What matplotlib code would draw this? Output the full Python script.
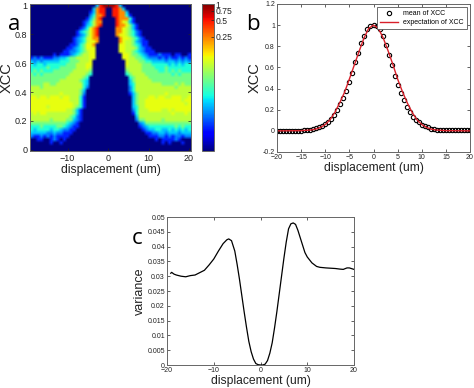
import matplotlib
matplotlib.use("Agg")
import numpy as np
import matplotlib.pyplot as plt
from matplotlib.colors import LogNorm

plt.rcParams['font.family'] = ['Liberation Sans', 'DejaVu Sans']

# heatmap levels, top row first: left part | right part, gap between is empty
HIST_ROWS = [
    "0"*20 + "39aa|aa93" + "0"*21,
    "0"*19 + "3899|9983" + "0"*20,
    "0"*18 + "13899|99883" + "0"*19,
    "0"*18 + "24889|998841" + "0"*18,
    "0"*17 + "13589|988841" + "0"*17,
    "0"*16 + "124688|987631" + "0"*17,
    "0"*16 + "134689|9887531" + "0"*16,
    "0"*15 + "124789|8876531" + "0"*16,
    "0"*14 + "1345789|88765421" + "0"*15,
    "0"*14 + "1235789|87765421" + "0"*15,
    "0"*13 + "12346788|87765421" + "0"*14,
    "0"*13 + "12346778|876653211" + "0"*13,
    "0"*12 + "11245778|776654311" + "0"*13,
    "0"*11 + "112345777|7766653211" + "0"*12,
    "0"*10 + "1122345677|77665432111" + "0"*11,
    "00000001011123456677|776554321112111011001",
    "12121112233455666677|776655432221212112121",
    "3232333334445556667|76665544333323323232",
    "4344344444455566677|76666555444443434344",
    "4444454445555566676|66666555544454444444",
    "4545444555555666665|56666555554454545444",
    "5454555555556666654|45666655555555454555",
    "555555555556666654|4566665555555555555",
    "555555555666666543|3566666555555555555",
    "555566556666666643|3466666666555565655",
    "666566666666666642|2466666666666656666",
    "66666666666666653|2466666666666666666",
    "66666666676666652|1356666666676666666",
    "77677677767766641|0356667767766777667",
    "77777777777766641|0356677777777777677",
    "77777777777776641|356677777777777767",
    "77777677777776541|346677777777777777",
    "7777777777766531|246667777667677777",
    "6767766666666531|146666666666766676",
    "6666666666665421|36666666666666666",
    "6666665666655321|25566666566666666",
    "555555555554321|2355555555555555",
    "444544445543211|1234444444454544",
    "43444434432211|123344334343434",
    "3333322322111|11223323332333",
    "211212121111|1112212122122",
    "001100121010|0010111121000",
    "000000100100|0000101000100",
    "|",
    "|",
]
LEVEL_FRAC = {"0": 0.0, "1": 0.16, "2": 0.25, "3": 0.32, "4": 0.39, "5": 0.49,
              "6": 0.58, "7": 0.63, "8": 0.76, "9": 0.88, "a": 0.97}

# b: mean and expectation of XCC
x_mean = np.arange(-20, 20.01, 0.625)
mean_xcc = [0.0, 0.0, 0.0, 0.0, 0.0, 0.0, 0.0, 0.001, 0.002, 0.004, 0.007, 0.011, 0.016, 0.023,
            0.032, 0.045, 0.062, 0.085, 0.115, 0.15, 0.195, 0.25, 0.31, 0.38, 0.46, 0.55, 0.65,
            0.74, 0.83, 0.9, 0.96, 0.99, 1.0, 0.99, 0.96, 0.9, 0.81, 0.72, 0.62, 0.52, 0.43, 0.36,
            0.29, 0.23, 0.18, 0.135, 0.105, 0.08, 0.06, 0.045, 0.032, 0.022, 0.016, 0.012, 0.009,
            0.007, 0.006, 0.006, 0.007, 0.008, 0.008, 0.008, 0.009, 0.009, 0.01]
x_expect = [-20, -15, -13, -12, -11, -10, -9, -8, -7, -6, -5, -4, -3, -2, -1, 0,
            1, 2, 3, 4, 5, 6, 7, 8, 9, 10, 11, 12, 13, 15, 20]
expect_xcc = [0.0, 0.002, 0.008, 0.016, 0.032, 0.06, 0.105, 0.175, 0.265, 0.365, 0.49, 0.62, 0.75,
              0.875, 0.97, 1.0, 0.97, 0.88, 0.76, 0.63, 0.49, 0.37, 0.265, 0.175, 0.105, 0.06,
              0.032, 0.016, 0.008, 0.002, 0.0]

# c: variance
x_var = [-19.2, -19, -18.5, -18, -17, -16, -15, -14, -13, -12, -11, -10, -9, -8, -7.2, -6.8, -6.2,
         -5.5, -5, -4.5, -4, -3.5, -3, -2.5, -2, -1.5, -1, -0.5, 0, 0.5, 1, 1.5, 2, 2.5, 3, 3.5, 4,
         4.5, 5, 5.5, 6, 6.5, 7, 7.5, 8, 8.5, 9, 9.5, 10, 11, 12, 12.7, 14, 15, 16, 17, 17.7, 18.5,
         19, 20]
variance = [0.031, 0.0313, 0.0307, 0.0304, 0.03, 0.0298, 0.0302, 0.0304, 0.0312, 0.032, 0.0338,
            0.0358, 0.0385, 0.041, 0.0423, 0.0426, 0.042, 0.0385, 0.034, 0.029, 0.0235, 0.018,
            0.0128, 0.008, 0.0045, 0.002, 0.0005, 0.0001, 0.0, 0.0, 0.0003, 0.0015, 0.004, 0.0075,
            0.0125, 0.018, 0.024, 0.03, 0.036, 0.0415, 0.046, 0.0477, 0.048, 0.0475, 0.0455, 0.043,
            0.0405, 0.038, 0.0365, 0.0345, 0.0333, 0.033, 0.0328, 0.0327, 0.0326, 0.0324, 0.0323,
            0.0328, 0.0328, 0.0323]

W, H = 474, 388
VMIN = 1 / 512


def pxAxes(fig, left, top, right, bottom):
    return fig.add_axes([left / W, 1 - bottom / H, (right - left) / W, (bottom - top) / H])


def styleAxes(ax, fontsize, pad=2):
    ax.tick_params(direction="in", length=2, width=0.5, top=True, right=True,
                   labelsize=fontsize, pad=pad, colors="#222222")
    for s in ax.spines.values():
        s.set_color("#666666")
        s.set_linewidth(0.7)


def rowLevels(row):
    left, right = row.split("|")
    full = left + "0" * (49 - len(left) - len(right)) + right
    return [VMIN ** (1 - LEVEL_FRAC[c]) for c in full]


fig = plt.figure(figsize=(W / 100, H / 100), dpi=100)

# a
axA = pxAxes(fig, 30, 4, 191, 151)
grid = np.array([rowLevels(r) for r in HIST_ROWS])
im = axA.imshow(grid, cmap="jet", norm=LogNorm(vmin=VMIN, vmax=1), aspect="auto",
                extent=(-19.3, 20.5, -0.01, 1.012), interpolation="bilinear",
                interpolation_stage="rgba")
axA.set_xticks([-10, 0, 10, 20])
axA.set_yticks([0, 0.2, 0.4, 0.6, 0.8, 1])
axA.set_yticklabels(["0", "0.2", "0.4", "0.6", "0.8", "1"])
styleAxes(axA, 6.5)
axA.set_xlabel("displacement (um)", fontsize=8.7, labelpad=1, color="#222222")
axA.set_ylabel("XCC", fontsize=10.5, labelpad=1, color="#222222")

cax = pxAxes(fig, 202, 4, 214, 151)
cbar = fig.colorbar(im, cax=cax)
cbar.set_ticks([0.25, 0.5, 0.75, 1])
cbar.set_ticklabels(["0.25", "0.5", "0.75", "1"])
cbar.minorticks_off()
cax.tick_params(direction="in", length=2, width=0.5, labelsize=6.2, pad=1, colors="#222222")
cbar.outline.set_edgecolor("#666666")
cbar.outline.set_linewidth(0.7)

# b
axB = pxAxes(fig, 277, 4, 470, 152)
axB.plot(x_mean, mean_xcc, "o", mfc="none", mec="black", ms=3.1, mew=0.8, label="mean of XCC")
axB.plot(x_expect, expect_xcc, "-", color="#d8202a", lw=1.0, label="expectation of XCC")
axB.set_xlim(-20, 20)
axB.set_ylim(-0.2, 1.2)
axB.set_xticks(np.arange(-20, 21, 5))
axB.set_yticks([-0.2, 0, 0.2, 0.4, 0.6, 0.8, 1, 1.2])
axB.set_yticklabels(["-0.2", "0", "0.2", "0.4", "0.6", "0.8", "1", "1.2"])
styleAxes(axB, 5, pad=1.5)
axB.set_xlabel("displacement (um)", fontsize=8.7, labelpad=1, color="#222222")
axB.set_ylabel("XCC", fontsize=10.5, labelpad=1, color="#222222")
axB.legend(loc="upper right", fontsize=5, fancybox=False, edgecolor="#555555", framealpha=1,
           borderaxespad=0.5, labelspacing=0.3, handlelength=2.6, borderpad=0.4).get_frame().set_linewidth(0.6)

# c
axC = pxAxes(fig, 167, 217, 354, 365)
axC.plot(x_var, variance, "-", color="black", lw=0.9)
axC.set_xlim(-20, 20)
axC.set_ylim(0, 0.05)
axC.set_xticks([-20, -10, 0, 10, 20])
axC.set_yticks(np.arange(0, 0.0501, 0.005))
axC.set_yticklabels(["0", "0.005", "0.01", "0.015", "0.02", "0.025", "0.03", "0.035", "0.04", "0.045", "0.05"])
styleAxes(axC, 5, pad=1.5)
axC.set_xlabel("displacement (um)", fontsize=8.7, labelpad=1, color="#222222")
axC.set_ylabel("variance", fontsize=9, labelpad=1, color="#222222")

# panel letters
for letter, px, py in [("a", 14, 24), ("b", 253, 24), ("c", 137, 238)]:
    fig.text(px / W, 1 - py / H, letter, fontsize=16, family="Open Sans", ha="center", va="center", color="black")

fig.savefig("out.png", dpi=100)
